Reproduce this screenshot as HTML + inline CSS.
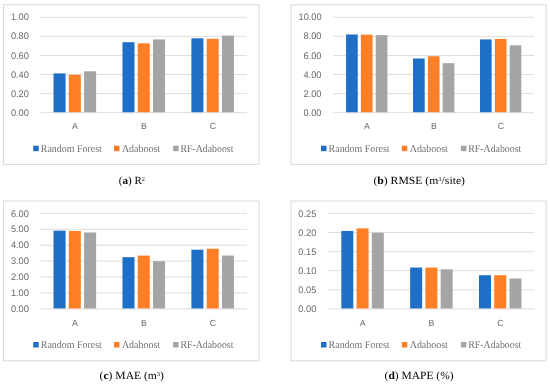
<!DOCTYPE html>
<html><head><meta charset="utf-8"><title>Figure</title>
<style>
html,body{margin:0;padding:0;background:#fff;}
svg{display:block}
.ax{font-family:"Liberation Sans",sans-serif;font-size:9.6px;fill:#6a6a6a;}
.ay{font-size:9.5px;}
.ac{font-size:8.8px;}
text{text-rendering:geometricPrecision;}
.lg{font-family:"Liberation Serif",serif;font-size:10.5px;fill:#707070;}
.cap{font-family:"Liberation Serif",serif;font-size:11px;fill:#000;}
</style></head><body>
<svg width="550" height="385" viewBox="0 0 550 385">
<rect width="550" height="385" fill="#fff"/>
<rect x="3.5" y="4.7" width="255.50" height="159.70" fill="#fff" stroke="#d9d9d9" stroke-width="1"/>
<line x1="40.2" x2="247" y1="112.70" y2="112.70" stroke="#d9d9d9" stroke-width="0.9"/>
<text x="10.90" y="115.80" class="ax ay" textLength="18.0" lengthAdjust="spacingAndGlyphs">0.00</text>
<line x1="40.2" x2="247" y1="93.62" y2="93.62" stroke="#d9d9d9" stroke-width="0.9"/>
<text x="10.90" y="96.72" class="ax ay" textLength="18.0" lengthAdjust="spacingAndGlyphs">0.20</text>
<line x1="40.2" x2="247" y1="74.54" y2="74.54" stroke="#d9d9d9" stroke-width="0.9"/>
<text x="10.90" y="77.64" class="ax ay" textLength="18.0" lengthAdjust="spacingAndGlyphs">0.40</text>
<line x1="40.2" x2="247" y1="55.46" y2="55.46" stroke="#d9d9d9" stroke-width="0.9"/>
<text x="10.90" y="58.56" class="ax ay" textLength="18.0" lengthAdjust="spacingAndGlyphs">0.60</text>
<line x1="40.2" x2="247" y1="36.38" y2="36.38" stroke="#d9d9d9" stroke-width="0.9"/>
<text x="10.90" y="39.48" class="ax ay" textLength="18.0" lengthAdjust="spacingAndGlyphs">0.80</text>
<line x1="40.2" x2="247" y1="17.30" y2="17.30" stroke="#d9d9d9" stroke-width="0.9"/>
<text x="10.90" y="20.40" class="ax ay" textLength="18.0" lengthAdjust="spacingAndGlyphs">1.00</text>
<rect x="53.52" y="73.40" width="12.03" height="38.85" fill="#1f6fc6"/>
<rect x="68.80" y="74.83" width="12.03" height="37.42" fill="#ff7f27"/>
<rect x="84.08" y="71.30" width="12.03" height="40.95" fill="#a5a5a5"/>
<text x="74.97" y="129.30" text-anchor="middle" class="ax ac">A</text>
<rect x="122.46" y="42.20" width="12.03" height="70.05" fill="#1f6fc6"/>
<rect x="137.73" y="43.34" width="12.03" height="68.91" fill="#ff7f27"/>
<rect x="153.01" y="39.43" width="12.03" height="72.82" fill="#a5a5a5"/>
<text x="143.90" y="129.30" text-anchor="middle" class="ax ac">B</text>
<rect x="191.39" y="38.29" width="12.03" height="73.96" fill="#1f6fc6"/>
<rect x="206.67" y="38.77" width="12.03" height="73.48" fill="#ff7f27"/>
<rect x="221.95" y="35.62" width="12.03" height="76.63" fill="#a5a5a5"/>
<text x="212.83" y="129.30" text-anchor="middle" class="ax ac">C</text>
<rect x="33.20" y="145.70" width="5.5" height="5.5" fill="#1f6fc6"/>
<text x="40.80" y="151.70" class="lg" textLength="61.0" lengthAdjust="spacingAndGlyphs">Random Forest</text>
<rect x="114.00" y="145.70" width="5.5" height="5.5" fill="#ff7f27"/>
<text x="121.90" y="151.70" class="lg" textLength="38.2" lengthAdjust="spacingAndGlyphs">Adaboost</text>
<rect x="173.10" y="145.70" width="5.5" height="5.5" fill="#a5a5a5"/>
<text x="180.50" y="151.70" class="lg" textLength="52.9" lengthAdjust="spacingAndGlyphs">RF-Adaboost</text>
<text x="118.8" y="184.2" class="cap" textLength="26.2" lengthAdjust="spacingAndGlyphs">(<tspan font-weight="bold">a</tspan>) R<tspan font-size="6.2" dy="-3">2</tspan></text>
<rect x="290.9" y="4.8" width="255.20" height="159.60" fill="#fff" stroke="#d9d9d9" stroke-width="1"/>
<line x1="333.1" x2="534.0" y1="112.70" y2="112.70" stroke="#d9d9d9" stroke-width="0.9"/>
<text x="303.50" y="115.80" class="ax ay" textLength="18.0" lengthAdjust="spacingAndGlyphs">0.00</text>
<line x1="333.1" x2="534.0" y1="93.62" y2="93.62" stroke="#d9d9d9" stroke-width="0.9"/>
<text x="303.50" y="96.72" class="ax ay" textLength="18.0" lengthAdjust="spacingAndGlyphs">2.00</text>
<line x1="333.1" x2="534.0" y1="74.54" y2="74.54" stroke="#d9d9d9" stroke-width="0.9"/>
<text x="303.50" y="77.64" class="ax ay" textLength="18.0" lengthAdjust="spacingAndGlyphs">4.00</text>
<line x1="333.1" x2="534.0" y1="55.46" y2="55.46" stroke="#d9d9d9" stroke-width="0.9"/>
<text x="303.50" y="58.56" class="ax ay" textLength="18.0" lengthAdjust="spacingAndGlyphs">6.00</text>
<line x1="333.1" x2="534.0" y1="36.38" y2="36.38" stroke="#d9d9d9" stroke-width="0.9"/>
<text x="303.50" y="39.48" class="ax ay" textLength="18.0" lengthAdjust="spacingAndGlyphs">8.00</text>
<line x1="333.1" x2="534.0" y1="17.30" y2="17.30" stroke="#d9d9d9" stroke-width="0.9"/>
<text x="298.60" y="20.40" class="ax ay" textLength="22.9" lengthAdjust="spacingAndGlyphs">10.00</text>
<rect x="346.05" y="34.47" width="11.69" height="77.78" fill="#1f6fc6"/>
<rect x="360.89" y="34.66" width="11.69" height="77.59" fill="#ff7f27"/>
<rect x="375.73" y="35.14" width="11.69" height="77.11" fill="#a5a5a5"/>
<text x="366.88" y="129.30" text-anchor="middle" class="ax ac">A</text>
<rect x="413.01" y="58.51" width="11.69" height="53.74" fill="#1f6fc6"/>
<rect x="427.86" y="56.22" width="11.69" height="56.03" fill="#ff7f27"/>
<rect x="442.70" y="63.19" width="11.69" height="49.06" fill="#a5a5a5"/>
<text x="433.85" y="129.30" text-anchor="middle" class="ax ac">B</text>
<rect x="479.98" y="39.43" width="11.69" height="72.82" fill="#1f6fc6"/>
<rect x="494.82" y="38.96" width="11.69" height="73.29" fill="#ff7f27"/>
<rect x="509.67" y="45.35" width="11.69" height="66.90" fill="#a5a5a5"/>
<text x="500.82" y="129.30" text-anchor="middle" class="ax ac">C</text>
<rect x="321.00" y="145.70" width="5.5" height="5.5" fill="#1f6fc6"/>
<text x="328.60" y="151.70" class="lg" textLength="61.0" lengthAdjust="spacingAndGlyphs">Random Forest</text>
<rect x="401.80" y="145.70" width="5.5" height="5.5" fill="#ff7f27"/>
<text x="409.70" y="151.70" class="lg" textLength="38.2" lengthAdjust="spacingAndGlyphs">Adaboost</text>
<rect x="460.90" y="145.70" width="5.5" height="5.5" fill="#a5a5a5"/>
<text x="468.30" y="151.70" class="lg" textLength="52.9" lengthAdjust="spacingAndGlyphs">RF-Adaboost</text>
<text x="373.4" y="184.2" class="cap" textLength="91.6" lengthAdjust="spacingAndGlyphs">(<tspan font-weight="bold">b</tspan>) RMSE (m<tspan font-size="6.2" dy="-3">3</tspan><tspan dy="3">/site)</tspan></text>
<rect x="3.5" y="201.0" width="255.50" height="159.80" fill="#fff" stroke="#d9d9d9" stroke-width="1"/>
<line x1="40.2" x2="247" y1="308.90" y2="308.90" stroke="#d9d9d9" stroke-width="0.9"/>
<text x="10.90" y="312.00" class="ax ay" textLength="18.0" lengthAdjust="spacingAndGlyphs">0.00</text>
<line x1="40.2" x2="247" y1="292.98" y2="292.98" stroke="#d9d9d9" stroke-width="0.9"/>
<text x="10.90" y="296.08" class="ax ay" textLength="18.0" lengthAdjust="spacingAndGlyphs">1.00</text>
<line x1="40.2" x2="247" y1="277.07" y2="277.07" stroke="#d9d9d9" stroke-width="0.9"/>
<text x="10.90" y="280.17" class="ax ay" textLength="18.0" lengthAdjust="spacingAndGlyphs">2.00</text>
<line x1="40.2" x2="247" y1="261.15" y2="261.15" stroke="#d9d9d9" stroke-width="0.9"/>
<text x="10.90" y="264.25" class="ax ay" textLength="18.0" lengthAdjust="spacingAndGlyphs">3.00</text>
<line x1="40.2" x2="247" y1="245.23" y2="245.23" stroke="#d9d9d9" stroke-width="0.9"/>
<text x="10.90" y="248.33" class="ax ay" textLength="18.0" lengthAdjust="spacingAndGlyphs">4.00</text>
<line x1="40.2" x2="247" y1="229.32" y2="229.32" stroke="#d9d9d9" stroke-width="0.9"/>
<text x="10.90" y="232.42" class="ax ay" textLength="18.0" lengthAdjust="spacingAndGlyphs">5.00</text>
<line x1="40.2" x2="247" y1="213.40" y2="213.40" stroke="#d9d9d9" stroke-width="0.9"/>
<text x="10.90" y="216.50" class="ax ay" textLength="18.0" lengthAdjust="spacingAndGlyphs">6.00</text>
<rect x="53.52" y="230.67" width="12.03" height="77.78" fill="#1f6fc6"/>
<rect x="68.80" y="230.91" width="12.03" height="77.54" fill="#ff7f27"/>
<rect x="84.08" y="232.50" width="12.03" height="75.95" fill="#a5a5a5"/>
<text x="74.97" y="325.80" text-anchor="middle" class="ax ac">A</text>
<rect x="122.46" y="257.17" width="12.03" height="51.28" fill="#1f6fc6"/>
<rect x="137.73" y="255.58" width="12.03" height="52.87" fill="#ff7f27"/>
<rect x="153.01" y="261.15" width="12.03" height="47.30" fill="#a5a5a5"/>
<text x="143.90" y="325.80" text-anchor="middle" class="ax ac">B</text>
<rect x="191.39" y="249.69" width="12.03" height="58.76" fill="#1f6fc6"/>
<rect x="206.67" y="248.73" width="12.03" height="59.71" fill="#ff7f27"/>
<rect x="221.95" y="255.58" width="12.03" height="52.87" fill="#a5a5a5"/>
<text x="212.83" y="325.80" text-anchor="middle" class="ax ac">C</text>
<rect x="33.20" y="342.00" width="5.5" height="5.5" fill="#1f6fc6"/>
<text x="40.80" y="347.70" class="lg" textLength="61.0" lengthAdjust="spacingAndGlyphs">Random Forest</text>
<rect x="114.00" y="342.00" width="5.5" height="5.5" fill="#ff7f27"/>
<text x="121.90" y="347.70" class="lg" textLength="38.2" lengthAdjust="spacingAndGlyphs">Adaboost</text>
<rect x="173.10" y="342.00" width="5.5" height="5.5" fill="#a5a5a5"/>
<text x="180.50" y="347.70" class="lg" textLength="52.9" lengthAdjust="spacingAndGlyphs">RF-Adaboost</text>
<text x="99.6" y="379.1" class="cap" textLength="64.4" lengthAdjust="spacingAndGlyphs">(<tspan font-weight="bold">c</tspan>) MAE (m<tspan font-size="6.2" dy="-3">3</tspan><tspan dy="3">)</tspan></text>
<rect x="290.9" y="201.0" width="255.20" height="159.80" fill="#fff" stroke="#d9d9d9" stroke-width="1"/>
<line x1="328" x2="534.5" y1="308.90" y2="308.90" stroke="#d9d9d9" stroke-width="0.9"/>
<text x="298.30" y="312.00" class="ax ay" textLength="18.0" lengthAdjust="spacingAndGlyphs">0.00</text>
<line x1="328" x2="534.5" y1="289.80" y2="289.80" stroke="#d9d9d9" stroke-width="0.9"/>
<text x="298.30" y="292.90" class="ax ay" textLength="18.0" lengthAdjust="spacingAndGlyphs">0.05</text>
<line x1="328" x2="534.5" y1="270.70" y2="270.70" stroke="#d9d9d9" stroke-width="0.9"/>
<text x="298.30" y="273.80" class="ax ay" textLength="18.0" lengthAdjust="spacingAndGlyphs">0.10</text>
<line x1="328" x2="534.5" y1="251.60" y2="251.60" stroke="#d9d9d9" stroke-width="0.9"/>
<text x="298.30" y="254.70" class="ax ay" textLength="18.0" lengthAdjust="spacingAndGlyphs">0.15</text>
<line x1="328" x2="534.5" y1="232.50" y2="232.50" stroke="#d9d9d9" stroke-width="0.9"/>
<text x="298.30" y="235.60" class="ax ay" textLength="18.0" lengthAdjust="spacingAndGlyphs">0.20</text>
<line x1="328" x2="534.5" y1="213.40" y2="213.40" stroke="#d9d9d9" stroke-width="0.9"/>
<text x="298.30" y="216.50" class="ax ay" textLength="18.0" lengthAdjust="spacingAndGlyphs">0.25</text>
<rect x="341.30" y="230.97" width="12.01" height="77.48" fill="#1f6fc6"/>
<rect x="356.56" y="228.37" width="12.01" height="80.08" fill="#ff7f27"/>
<rect x="371.82" y="232.77" width="12.01" height="75.68" fill="#a5a5a5"/>
<text x="362.72" y="325.80" text-anchor="middle" class="ax ac">A</text>
<rect x="410.14" y="267.53" width="12.01" height="40.92" fill="#1f6fc6"/>
<rect x="425.39" y="267.53" width="12.01" height="40.92" fill="#ff7f27"/>
<rect x="440.65" y="269.32" width="12.01" height="39.13" fill="#a5a5a5"/>
<text x="431.55" y="325.80" text-anchor="middle" class="ax ac">B</text>
<rect x="478.97" y="275.21" width="12.01" height="33.24" fill="#1f6fc6"/>
<rect x="494.23" y="275.21" width="12.01" height="33.24" fill="#ff7f27"/>
<rect x="509.48" y="278.49" width="12.01" height="29.96" fill="#a5a5a5"/>
<text x="500.38" y="325.80" text-anchor="middle" class="ax ac">C</text>
<rect x="321.00" y="342.00" width="5.5" height="5.5" fill="#1f6fc6"/>
<text x="328.60" y="347.70" class="lg" textLength="61.0" lengthAdjust="spacingAndGlyphs">Random Forest</text>
<rect x="401.80" y="342.00" width="5.5" height="5.5" fill="#ff7f27"/>
<text x="409.70" y="347.70" class="lg" textLength="38.2" lengthAdjust="spacingAndGlyphs">Adaboost</text>
<rect x="460.90" y="342.00" width="5.5" height="5.5" fill="#a5a5a5"/>
<text x="468.30" y="347.70" class="lg" textLength="52.9" lengthAdjust="spacingAndGlyphs">RF-Adaboost</text>
<text x="384.6" y="379.1" class="cap" textLength="69" lengthAdjust="spacingAndGlyphs">(<tspan font-weight="bold">d</tspan>) MAPE (%)</text>
</svg>
</body></html>
